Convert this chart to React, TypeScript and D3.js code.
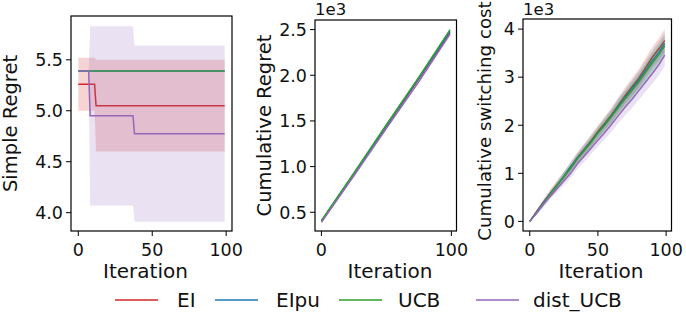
import React from "react";
import * as d3 from "d3";

// ---------- data ----------
const methods = ["EI", "EIpu", "UCB", "dist_UCB"];
const colors = ["#d62728", "#1f77b4", "#2ca02c", "#9467bd"];

// Panel 1: simple regret (breakpoints of step-like curves)
const srIters = [
  [0, 11, 12, 99],
  [0, 99],
  [0, 99],
  [0, 7, 8, 37, 38, 99],
];
const srMean = [
  [5.26, 5.26, 5.05, 5.05],
  [5.39, 5.39],
  [5.39, 5.39],
  [5.39, 5.39, 4.95, 4.95, 4.775, 4.775],
];
const srUpper = [
  [5.52, 5.52, 5.5, 5.5],
  [5.39, 5.39],
  [5.39, 5.39],
  [5.39, 5.39, 5.83, 5.83, 5.64, 5.64],
];
const srLower = [
  [5.0, 5.0, 4.6, 4.6],
  [5.39, 5.39],
  [5.39, 5.39],
  [5.39, 5.39, 4.07, 4.07, 3.91, 3.91],
];

// Panel 2: cumulative regret (x1e3)
const crIters = [0, 25, 50, 75, 99];
const crMean = [
  [0.4, 0.92, 1.44, 1.96, 2.47],
  [0.4, 0.92, 1.45, 1.97, 2.48],
  [0.41, 0.93, 1.46, 1.98, 2.5],
  [0.39, 0.9, 1.42, 1.93, 2.45],
];

// Panel 3: cumulative switching cost (x1e3)
const scIters = [0, 5, 10, 15, 20, 25, 30, 35, 40, 45, 50, 55, 60, 65, 70, 75, 80, 85, 90, 95, 99];
const scMean = [
  [0, 0.2, 0.4, 0.58, 0.76, 0.93, 1.12, 1.33, 1.5, 1.68, 1.87, 2.04, 2.22, 2.42, 2.62, 2.8, 2.98, 3.2, 3.42, 3.6, 3.76],
  [0, 0.19, 0.39, 0.57, 0.75, 0.94, 1.14, 1.32, 1.49, 1.66, 1.84, 2.02, 2.2, 2.4, 2.58, 2.76, 2.94, 3.14, 3.35, 3.53, 3.7],
  [0, 0.18, 0.37, 0.56, 0.74, 0.92, 1.1, 1.3, 1.47, 1.64, 1.84, 2.0, 2.18, 2.37, 2.55, 2.72, 2.9, 3.1, 3.3, 3.48, 3.65],
  [0, 0.17, 0.35, 0.52, 0.68, 0.84, 1.0, 1.2, 1.36, 1.52, 1.69, 1.85, 2.02, 2.2, 2.38, 2.54, 2.72, 2.9, 3.08, 3.27, 3.46],
];
const scStd = [
  [0, 0.04, 0.06, 0.08, 0.09, 0.1, 0.1, 0.11, 0.12, 0.13, 0.13, 0.14, 0.15, 0.16, 0.17, 0.18, 0.19, 0.2, 0.21, 0.22, 0.24],
  [0, 0.04, 0.05, 0.07, 0.08, 0.09, 0.1, 0.1, 0.11, 0.12, 0.12, 0.13, 0.14, 0.15, 0.16, 0.17, 0.18, 0.19, 0.2, 0.21, 0.22],
  [0, 0.03, 0.05, 0.07, 0.08, 0.09, 0.09, 0.1, 0.11, 0.11, 0.12, 0.13, 0.14, 0.15, 0.16, 0.17, 0.17, 0.18, 0.19, 0.2, 0.21],
  [0, 0.04, 0.06, 0.07, 0.08, 0.09, 0.1, 0.11, 0.12, 0.12, 0.13, 0.14, 0.15, 0.16, 0.17, 0.18, 0.19, 0.2, 0.21, 0.22, 0.23],
];

const xTicks1 = [0, 50, 100];
const yTicks1 = [4.0, 4.5, 5.0, 5.5];
const xTicks2 = [0, 100];
const yTicks2 = [0.5, 1.0, 1.5, 2.0, 2.5];
const xTicks3 = [0, 50, 100];
const yTicks3 = [0, 1, 2, 3, 4];

// ---------- rendering ----------
const FONT = "DejaVu Sans, sans-serif";

type Series = { x: number[]; mean: number[]; lo?: number[]; hi?: number[] };

type PanelProps = {
  left: number; right: number; top: number; bottom: number;
  yDomain: [number, number];
  xTicks: number[]; yTicks: number[]; yFmt: (v: number) => string;
  series: Series[];
  ylabel: string; ylabelX: number; ylabelY?: number; ylabelSize?: number;
  xlabelX: number;
  offsetText?: string;
};

function Panel(p: PanelProps) {
  const x = d3.scaleLinear().domain([-4.95, 103.95]).range([p.left, p.right]);
  const y = d3.scaleLinear().domain(p.yDomain).range([p.bottom, p.top]);
  const id = "clip" + Math.round(p.left);
  const line = (s: Series) =>
    d3.line<number>().x((_, i) => x(s.x[i])).y((d) => y(d))(s.mean) || "";
  const area = (s: Series) =>
    d3.area<number>()
      .x((_, i) => x(s.x[i]))
      .y0((_, i) => y(s.lo![i]))
      .y1((d) => y(d))(s.hi!) || "";
  const ylY = p.ylabelY ?? (p.top + p.bottom) / 2;
  return (
    <g>
      <defs>
        <clipPath id={id}>
          <rect x={p.left} y={p.top} width={p.right - p.left} height={p.bottom - p.top} />
        </clipPath>
      </defs>
      <g clipPath={`url(#${id})`}>
        {p.series.map((s, i) => (
          <g key={i}>
            <path d={line(s)} fill="none" stroke={colors[i]} strokeWidth={1.5} />
            {s.lo && s.hi ? <path d={area(s)} fill={colors[i]} fillOpacity={0.2} stroke="none" /> : null}
          </g>
        ))}
      </g>
      <rect x={p.left} y={p.top} width={p.right - p.left} height={p.bottom - p.top}
        fill="none" stroke="#000" strokeWidth={1.2} />
      {p.xTicks.map((t) => (
        <g key={"x" + t}>
          <line x1={x(t)} x2={x(t)} y1={p.bottom} y2={p.bottom + 5} stroke="#000" strokeWidth={1} />
          <text x={x(t)} y={p.bottom + 25} textAnchor="middle" fontSize={17.5} fontFamily={FONT} fill="#111">{t}</text>
        </g>
      ))}
      {p.yTicks.map((t) => (
        <g key={"y" + t}>
          <line x1={p.left - 5} x2={p.left} y1={y(t)} y2={y(t)} stroke="#000" strokeWidth={1} />
          <text x={p.left - 8} y={y(t) + 6.3} textAnchor="end" fontSize={17.5} fontFamily={FONT} fill="#111">{p.yFmt(t)}</text>
        </g>
      ))}
      <text x={p.xlabelX} y={277.5} textAnchor="middle" fontSize={20} fontFamily={FONT} fill="#111">Iteration</text>
      <text transform={`translate(${p.ylabelX},${ylY}) rotate(-90)`} textAnchor="middle"
        fontSize={p.ylabelSize ?? 19.5} fontFamily={FONT} fill="#111">{p.ylabel}</text>
      {p.offsetText ? (
        <text x={p.left} y={15} fontSize={16.5} fontFamily={FONT} fill="#111">{p.offsetText}</text>
      ) : null}
    </g>
  );
}

const legendLineX = [115, 215, 339, 476];
const legendTextX = [177, 276, 398, 533];

export default function App() {
  const s1: Series[] = methods.map((_, i) => ({ x: srIters[i], mean: srMean[i], lo: srLower[i], hi: srUpper[i] }));
  const s2: Series[] = methods.map((_, i) => ({ x: crIters, mean: crMean[i] }));
  const s3: Series[] = methods.map((_, i) => ({
    x: scIters,
    mean: scMean[i],
    lo: scMean[i].map((m, k) => m - scStd[i][k]),
    hi: scMean[i].map((m, k) => m + scStd[i][k]),
  }));
  const f1 = d3.format(".1f");
  const f3 = d3.format("d");
  return (
    <svg width={686} height={314} style={{ position: "absolute", left: 0, top: 0, background: "#fff" }}>
      <rect width={686} height={314} fill="#fff" />
      <Panel left={71} right={232} top={16} bottom={231} yDomain={[3.82, 5.93]}
        xTicks={xTicks1} yTicks={yTicks1} yFmt={f1} series={s1}
        ylabel="Simple Regret" ylabelX={17} xlabelX={145.5} />
      <Panel left={315} right={456.5} top={20} bottom={231} yDomain={[0.295, 2.605]}
        xTicks={xTicks2} yTicks={yTicks2} yFmt={f1} series={s2}
        ylabel="Cumulative Regret" ylabelX={270.5} xlabelX={390} offsetText="1e3" />
      <Panel left={523} right={671.5} top={19} bottom={231} yDomain={[-0.2, 4.21]}
        xTicks={xTicks3} yTicks={yTicks3} yFmt={f3} series={s3}
        ylabel="Cumulative switching cost" ylabelX={490.5} ylabelY={121} ylabelSize={18.2}
        xlabelX={601} offsetText="1e3" />
      {methods.map((m, i) => (
        <g key={m}>
          <line x1={legendLineX[i]} x2={legendLineX[i] + 43} y1={300} y2={300} stroke={colors[i]} strokeWidth={1.5} />
          <text x={legendTextX[i]} y={307} fontSize={20} fontFamily={FONT} fill="#111">{m}</text>
        </g>
      ))}
    </svg>
  );
}
